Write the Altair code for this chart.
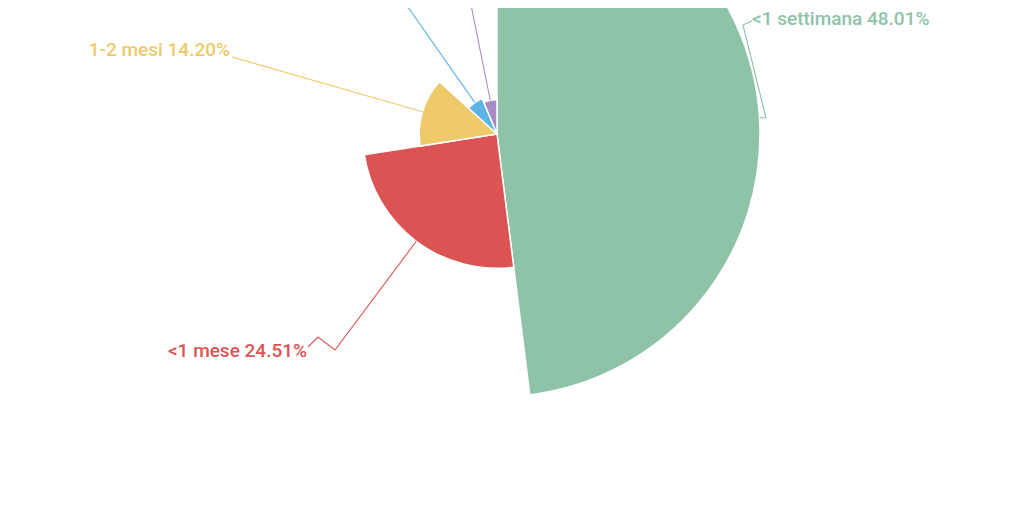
import math
import altair as alt
import pandas as pd

# ---- data ----
categories = ["<1 settimana", "<1 mese", "1-2 mesi", "3-6 mesi", ">6 mesi"]
values = [48.01, 24.51, 14.20, 7.00, 6.28]

# ---- style / layout ----
colors = ["#8EC3A7", "#DC5353", "#EECA6A", "#5BB4E2", "#A78BC6"]
CX, CY, RMAX = 489, 126, 263
W, H = 1008, 496

# leader-line elbows (layout, in view pixels)
bends = {
    "<1 settimana": [(758, 110), (735, 17), (744, 13)],
    "<1 mese": [(327, 342), (310, 329), (300, 339)],
    "1-2 mesi": [(224, 49)],
    "3-6 mesi": [(381, -28)],
    ">6 mesi": [(458, -28)],
}
# label anchors for the labels that fall inside the picture
anchors = {
    "<1 settimana": (744, 11, "left"),
    "<1 mese": (299, 343, "right"),
    "1-2 mesi": (222, 42, "right"),
}

df = pd.DataFrame({"cat": categories, "value": values, "idx": range(len(values))})
total = sum(values)
vmax = max(values)

line_rows = []
cum = 0.0
for c, v in zip(categories, values):
    mid = (cum + v / 2) / total * 2 * math.pi
    cum += v
    r = v / vmax * RMAX
    ex, ey = CX + r * math.sin(mid), CY - r * math.cos(mid)
    pts = [(ex, ey)] + bends[c]
    for k, (px, py) in enumerate(pts):
        line_rows.append({"cat": c, "k": k, "px": px, "py": py})
lines_df = pd.DataFrame(line_rows)

text_rows = []
for c, v in zip(categories, values):
    if c in anchors:
        ax, ay, al = anchors[c]
        text_rows.append({"cat": c, "label": f"{c} {v:.2f}%", "px": ax, "py": ay, "al": al})
text_df = pd.DataFrame(text_rows)

color_scale = alt.Scale(domain=categories, range=colors)

arcs = alt.Chart(df).mark_arc(stroke="white", strokeWidth=1.5).encode(
    theta=alt.Theta("value:Q", stack=True),
    radius=alt.Radius("value:Q", scale=alt.Scale(type="linear", domain=[0, vmax], range=[0, RMAX], zero=True, nice=False)),
    color=alt.Color("cat:N", scale=color_scale, legend=None),
    order=alt.Order("idx:Q"),
    x=alt.value(CX),
    y=alt.value(CY),
)

leaders = alt.Chart(lines_df).mark_line(strokeWidth=1.1).encode(
    x=alt.X("px:Q", scale=None, axis=None),
    y=alt.Y("py:Q", scale=None, axis=None),
    detail="cat:N",
    order="k:Q",
    color=alt.Color("cat:N", scale=color_scale, legend=None),
)

def text_layer(al):
    return alt.Chart(text_df[text_df["al"] == al]).mark_text(
        font="Roboto", fontSize=19, fontWeight=500, align=al, baseline="middle"
    ).encode(
        x=alt.X("px:Q", scale=None, axis=None),
        y=alt.Y("py:Q", scale=None, axis=None),
        text="label:N",
        color=alt.Color("cat:N", scale=color_scale, legend=None),
    )

chart = alt.layer(arcs, leaders, text_layer("left"), text_layer("right")).properties(
    width=W, height=H, autosize=alt.AutoSizeParams(type="none"), padding=0
).configure_view(stroke=None)

chart.save("out.html", embed_options={"renderer": "svg", "actions": False})
